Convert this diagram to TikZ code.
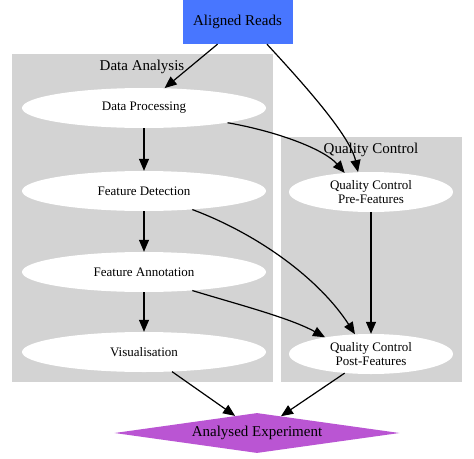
\documentclass[tikz,border=0pt]{standalone}
\usepackage{fontspec}
\setmainfont{Liberation Serif}
\usetikzlibrary{shapes.geometric,arrows.meta}
\definecolor{clustergrey}{HTML}{D3D3D3}
\definecolor{readsblue}{HTML}{4876FF}
\definecolor{orchid}{HTML}{BA55D3}
\tikzset{
  cluster/.style={fill=clustergrey,draw=none},
  clabel/.style={font=\fontsize{15}{17}\selectfont,inner sep=0pt},
  stepnode/.style={ellipse,fill=white,draw=none,minimum width=244pt,minimum height=40pt,inner sep=0pt,font=\fontsize{13}{15}\selectfont,align=center},
  qcnode/.style={ellipse,fill=white,draw=none,minimum width=164pt,minimum height=40pt,inner sep=0pt,font=\fontsize{13}{14.5}\selectfont,align=center},
  edge/.style={line width=1.2pt,-{Triangle[length=12pt,width=10pt]}},
}
\begin{document}
\begin{tikzpicture}[x=1pt,y=-1pt]
\useasboundingbox (0,0) rectangle (474,458);
\fill[white] (0,0) rectangle (474,458);
% clusters
\fill[cluster] (12,54) rectangle (273,382);
\fill[cluster] (281,137) rectangle (462,382);
\node[clabel] (cda) at (142,67) {Data Analysis};
\node[clabel] (cqc) at (371,150) {Quality Control};
% nodes
\node[rectangle,fill=readsblue,minimum width=110pt,minimum height=44pt,inner sep=0pt,font=\fontsize{15}{17}\selectfont] (ar) at (237.5,22) {Aligned Reads};
\node[stepnode] (dp) at (144,108) {Data Processing};
\node[stepnode] (fd) at (144,191) {Feature Detection};
\node[stepnode] (fa) at (144,272) {Feature Annotation};
\node[stepnode] (vis) at (144,352) {Visualisation};
\node[qcnode] (qcpre) at (371,192) {Quality Control\\Pre-Features};
\node[qcnode] (qcpost) at (371,354) {Quality Control\\Post-Features};
\node[diamond,aspect=7,fill=orchid,draw=none,minimum width=285pt,minimum height=40pt,inner sep=0pt,font=\fontsize{15}{17}\selectfont] (ae) at (257,433) {Analysed Experiment};
% edges
\draw[edge] (ar.-132) -- (dp.44);
\draw[edge] (ar.-37) .. controls (300,80) and (350,135) .. (qcpre.123);
\draw[edge] (dp.-10) .. controls (280,132) and (325,150) .. (qcpre.144);
\draw[edge] (dp.south) -- (fd.north);
\draw[edge] (fd.south) -- (fa.north);
\draw[edge] (fa.south) -- (vis.north);
\draw[edge] (fd.-21) .. controls (260,235) and (320,280) .. (qcpost.129);
\draw[edge] (fa.-21) .. controls (240,305) and (290,318) .. (qcpost.160);
\draw[edge] (qcpre.south) -- (qcpost.north);
\draw[edge] (vis.-35) -- (ae.142);
\draw[edge] (qcpost.-144) -- (ae.35);
\end{tikzpicture}
\end{document}
